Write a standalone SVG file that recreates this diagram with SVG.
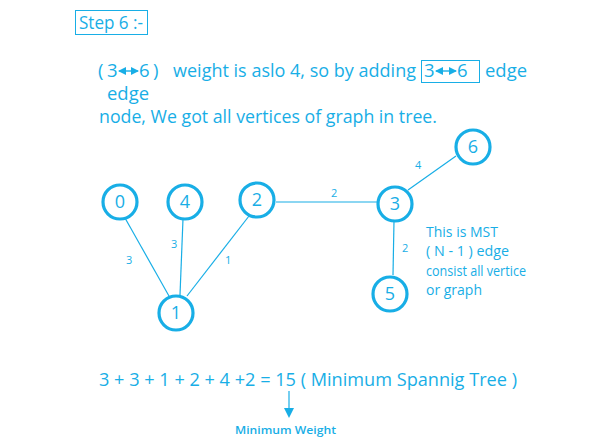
<svg xmlns="http://www.w3.org/2000/svg" width="596" height="446" viewBox="0 0 596 446">
<defs>
<style>
text{font-family:"Open Sans","Liberation Sans",sans-serif;fill:#18aee6}
.big{font-size:18.5px}
.lbl{font-size:11px}
.nd{font-size:18px;text-anchor:middle}
.mst{font-size:14.5px}
circle{fill:#fff;stroke:#18aee6;stroke-width:3.2}
.edge{stroke:#18aee6;stroke-width:1.2;fill:none}
.dbl{stroke:#18aee6;stroke-width:1.4;fill:none;marker-start:url(#ahs);marker-end:url(#ahe)}
.box{fill:none;stroke:#18aee6;stroke-width:1}
</style>
<marker id="ah" markerWidth="10" markerHeight="10" refX="8" refY="5" orient="auto" markerUnits="userSpaceOnUse">
<path d="M0,0 L10,5 L0,10 Z" fill="#18aee6"/>
</marker>
<marker id="ahe" markerWidth="8" markerHeight="8" refX="7" refY="4" orient="auto" markerUnits="userSpaceOnUse">
<path d="M0,0 L8,4 L0,8 Z" fill="#18aee6"/>
</marker>
<marker id="ahs" markerWidth="8" markerHeight="8" refX="1" refY="4" orient="auto" markerUnits="userSpaceOnUse">
<path d="M8,0 L0,4 L8,8 Z" fill="#18aee6"/>
</marker>
</defs>
<rect width="596" height="446" fill="#fff"/>
<g id="title">
<rect class="box" x="75.5" y="10.5" width="72" height="24"/>
<text class="big" x="79" y="29" textLength="64" lengthAdjust="spacingAndGlyphs">Step 6 :-</text>
</g>
<g id="description">
<text class="big" x="98" y="77">(</text>
<text class="big" x="107" y="77">3</text>
<line class="dbl" x1="119" y1="71" x2="138" y2="71"/>
<text class="big" x="139" y="77">6</text>
<text class="big" x="153" y="77">)</text>
<text class="big" x="173" y="77" textLength="243" lengthAdjust="spacingAndGlyphs">weight is aslo 4, so by adding</text>
<rect class="box" x="421.5" y="60.5" width="58" height="22"/>
<text class="big" x="424" y="77">3</text>
<line class="dbl" x1="436" y1="71" x2="456" y2="71"/>
<text class="big" x="457" y="77">6</text>
<text class="big" x="485" y="77" textLength="42" lengthAdjust="spacingAndGlyphs">edge</text>
<text class="big" x="107" y="100" textLength="42" lengthAdjust="spacingAndGlyphs">edge</text>
<text class="big" x="99" y="123" textLength="338" lengthAdjust="spacingAndGlyphs">node, We got all vertices of graph in tree.</text>
</g>
<g id="connectors">
<line class="edge" x1="125" y1="218" x2="169" y2="296"/>
<line class="edge" x1="183" y1="219" x2="180" y2="295"/>
<line class="edge" x1="249" y1="216" x2="187" y2="296"/>
<line class="edge" x1="276" y1="202" x2="377" y2="202"/>
<line class="edge" x1="408" y1="190" x2="456" y2="156"/>
<line class="edge" x1="394" y1="221" x2="393" y2="275"/>
<text class="lbl" x="126" y="264">3</text>
<text class="lbl" x="171" y="248">3</text>
<text class="lbl" x="225" y="264">1</text>
<text class="lbl" x="331" y="197">2</text>
<text class="lbl" x="415" y="169">4</text>
<text class="lbl" x="402" y="252">2</text>
</g>
<g id="node0"><circle cx="120" cy="202" r="17"/><text class="nd" x="120" y="208">0</text></g>
<g id="node4"><circle cx="185" cy="202" r="17"/><text class="nd" x="185" y="208">4</text></g>
<g id="node2"><circle cx="257" cy="200" r="17"/><text class="nd" x="257" y="206">2</text></g>
<g id="node1"><circle cx="176" cy="313" r="17"/><text class="nd" x="176" y="319">1</text></g>
<g id="node3"><circle cx="395" cy="204" r="17"/><text class="nd" x="395" y="210">3</text></g>
<g id="node6"><circle cx="473" cy="147" r="17"/><text class="nd" x="473" y="153">6</text></g>
<g id="node5"><circle cx="390" cy="294" r="17"/><text class="nd" x="390" y="300">5</text></g>
<g id="mst-note">
<text class="mst" x="426" y="237" textLength="72" lengthAdjust="spacingAndGlyphs">This is MST</text>
<text class="mst" x="426" y="256" textLength="83" lengthAdjust="spacingAndGlyphs">( N - 1 ) edge</text>
<text class="mst" x="426" y="276" textLength="100" lengthAdjust="spacingAndGlyphs">consist all vertice</text>
<text class="mst" x="426" y="295" textLength="56" lengthAdjust="spacingAndGlyphs">or graph</text>
</g>
<g id="total">
<text class="big" x="99" y="386" textLength="418" lengthAdjust="spacingAndGlyphs">3 + 3 + 1 + 2 + 4 +2 = 15 ( Minimum Spannig Tree )</text>
<line class="edge" x1="289" y1="391" x2="289" y2="416" marker-end="url(#ah)"/>
<text x="235" y="434" style="font-size:11px;font-weight:600" textLength="101" lengthAdjust="spacingAndGlyphs">Minimum Weight</text>
</g>
</svg>
